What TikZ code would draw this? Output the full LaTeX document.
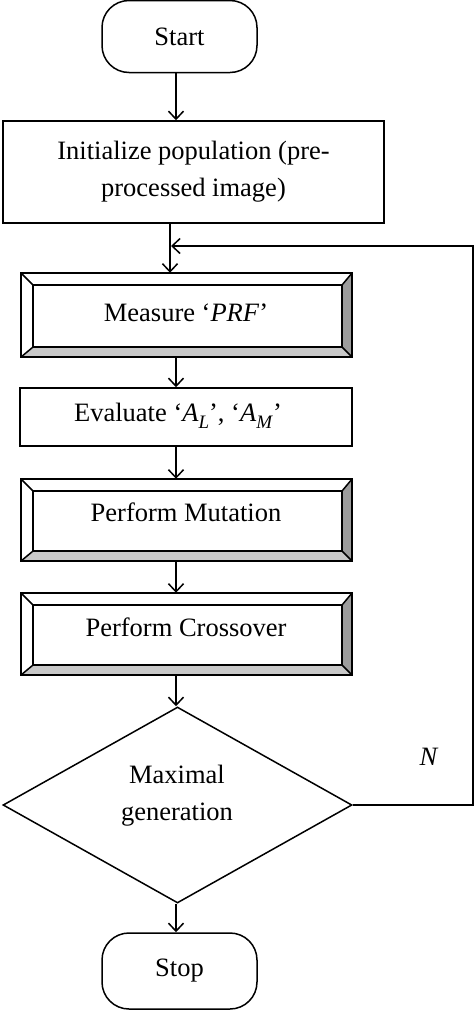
\documentclass[tikz,border=0pt]{standalone}
\usepackage{fontspec}
\setmainfont{Liberation Serif}
\usetikzlibrary{shapes.geometric,arrows.meta,calc}
\definecolor{bevR}{HTML}{9C9C9C}
\definecolor{bevB}{HTML}{C8C8C8}
\newcommand\bevelbox[1]{%
  \coordinate (#1-a) at ([shift={(12pt,-12pt)}]#1.north west);
  \coordinate (#1-b) at ([shift={(-10pt,10pt)}]#1.south east);
  \fill[bevR] (#1.north east) -- (#1.south east) -- (#1-b) -- (#1-a -| #1-b) -- cycle;
  \fill[bevB] (#1.south west) -- (#1.south east) -- (#1-b) -- (#1-a |- #1-b) -- cycle;
  \draw[ln] (#1-a) rectangle (#1-b);
  \draw[ln] (#1.north west) -- (#1-a);
  \draw[ln] (#1.north east) -- (#1-a -| #1-b);
  \draw[ln] (#1.south east) -- (#1-b);
  \draw[ln] (#1.south west) -- (#1-a |- #1-b);
  \draw[ln] (#1.north west) rectangle (#1.south east);
}
\newcommand\subit[2]{\textit{#1}\raisebox{-0.28em}{\fontsize{19}{19}\selectfont\textit{#2}}}
\begin{document}
\begin{tikzpicture}[x=1pt,y=-1pt,
  ln/.style={line width=1.5pt},
  arr/.style={ln,-{Straight Barb[length=8pt,width=15pt,line width=1.5pt]}},
  txt/.style={font=\fontsize{26.5}{37}\selectfont,align=center,inner sep=0pt},
  term/.style={txt,draw,ln,rounded corners=27pt,minimum width=155pt,minimum height=72pt},
  plain/.style={txt,draw,ln},
  bevbox/.style={txt,minimum width=331pt,minimum height=84pt}]
\useasboundingbox (0,0) rectangle (474,1010);
\coordinate (col) at (176,0);
\coordinate (colB) at (170,0);
\node[term] (start) at (179.5,36.5) {Start};
\node[plain,minimum width=381pt,minimum height=102pt] (init) at (193.5,172) {Initialize population (pre-\\processed image)};
\node[bevbox] (prf) at (186.5,315) {};
\node[plain,minimum width=332pt,minimum height=58pt] (eval) at (186,417) {};
\node[txt] (evalt) at (178,416) {Evaluate `\subit{A}{L}', `\subit{A}{M}'};
\node[bevbox,minimum height=82pt] (mut) at (186.5,520) {};
\node[bevbox,minimum height=82pt] (cro) at (186.5,634) {};
\bevelbox{prf}
\bevelbox{mut}
\bevelbox{cro}
\node[txt] (prft) at (186,313) {Measure `\textit{PRF}'};
\node[txt] (mutt) at (186,512) {Perform Mutation};
\node[txt] (crot) at (186,627) {Perform Crossover};
\node[diamond,draw,ln,inner sep=0pt,minimum width=349pt,minimum height=196pt,aspect=1.78] (dec) at (177.5,805) {};
\node[txt] (dect) at (177,796) {Maximal\\generation};
\node[term,minimum height=76pt] (stop) at (179.5,971) {Stop};
\node[txt] (nlab) at (429,757) {\textit{N}};
\coordinate (loopR) at (473,805);
\coordinate (loopT) at (473,246);
\coordinate (merge) at (171,246);
\draw[arr] (start.south -| col) -- (init.north -| col);
\draw[arr] (init.south -| colB) -- (prf.north -| colB);
\draw[arr] (prf.south -| col) -- (eval.north -| col);
\draw[arr] (eval.south -| col) -- (mut.north -| col);
\draw[arr] (mut.south -| col) -- (cro.north -| col);
\draw[arr] (cro.south -| col) -- (dec.north -| col);
\draw[arr] (dec.south -| col) -- (stop.north -| col);
\draw[arr] (dec.east) -- (loopR) -- (loopT) -- (merge);
\end{tikzpicture}
\end{document}
